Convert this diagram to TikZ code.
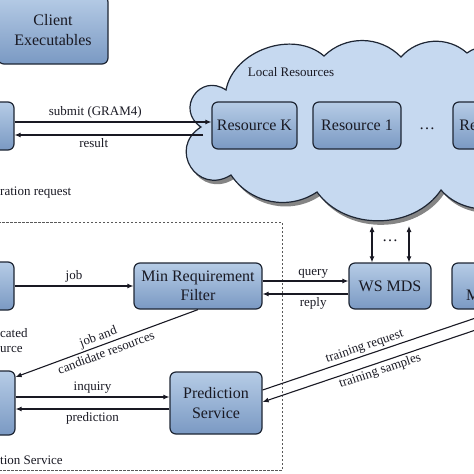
\documentclass[tikz,border=0pt]{standalone}
\usepackage{fontspec}
\setmainfont{Liberation Serif}
\usepackage{xcolor}
\usetikzlibrary{positioning, arrows.meta, shadows}

\definecolor{boxtop}{RGB}{182,204,230}
\definecolor{boxbot}{RGB}{122,153,195}
\definecolor{cloudblue}{RGB}{198,217,240}
\definecolor{edge}{RGB}{30,38,52}
\definecolor{ink}{RGB}{25,25,35}

\begin{document}
\begin{tikzpicture}[x=1pt, y=1pt,
  box/.style={draw=edge, line width=1.2pt, rounded corners=6pt, top color=boxtop, bottom color=boxbot,
    align=center, font=\fontsize{16}{19.5}\selectfont, text=ink, inner sep=2pt},
  lbl/.style={font=\fontsize{13}{15}\selectfont, text=ink, inner sep=1pt},
  link/.style={draw=ink, line width=1.1pt, -{Latex[length=6pt,width=5pt]}},
  back/.style={draw=ink, line width=1.1pt, {Latex[length=6pt,width=5pt]}-},
  twoway/.style={draw=ink, line width=1.1pt, {Latex[length=6pt,width=5pt]}-{Latex[length=6pt,width=5pt]}}
]
  \useasboundingbox (0,0) rectangle (474,-474);
  \clip (0,0) rectangle (474,-474);

  % service frame
  \draw[gray!70!black, line width=0.8pt, dash pattern=on 2.5pt off 1.5pt]
        (-5,-222) rectangle (282,-470);

  % local resources cloud
  \path[fill=cloudblue, draw=edge, line width=1.2pt,
        drop shadow={shadow xshift=3pt, shadow yshift=-4pt, fill=gray!80!black, opacity=0.8}]
     (226,-90) to[bend left=60] (324,-56) to[bend left=45] (401,-57)
     to[bend left=45] (467,-53) to[bend left=60] (530,-80)
     -- (540,-180) to[bend left=55] (441,-190) to[bend left=55] (317,-192)
     to[bend left=45] (231,-175) to[bend left=90, looseness=1.8] (201,-127)
     to[bend left=90, looseness=1.8] (226,-90) -- cycle;

  \node[box, minimum width=110pt, minimum height=68pt] (client) at (53,-30) {Client\\Executables};
  \node[box, minimum width=88pt, minimum height=48pt] (broker) at (-30,-126) {};
  \node[box, minimum width=85pt, minimum height=47pt] (resK) at (254.5,-125.5) {Resource K};
  \node[box, minimum width=88pt, minimum height=47pt] (resA) at (357,-125.5) {Resource 1};
  \node[lbl, font=\fontsize{16}{19}\selectfont] (resdots) at (427,-129) {\dots};
  \node[box, minimum width=88pt, minimum height=47pt] (resN) at (497,-125.5) {Resource N};
  \node[lbl] (localres) at (291,-72) {Local Resources};
  \node[lbl, anchor=west] (allocreq) at (-1,-193) {ration request};

  \node[box, minimum width=88pt, minimum height=48pt] (matcher) at (-30,-286) {};
  \node[box, minimum width=128pt, minimum height=46pt] (filter) at (198,-286) {Min Requirement\\Filter};
  \node[box, minimum width=82pt, minimum height=46pt] (wsmds) at (390,-286) {WS MDS};
  \node[box, minimum width=88pt, minimum height=46pt] (trainer) at (496,-286) {};
  \node[lbl, font=\fontsize{16}{19}\selectfont, anchor=west] (trainertext) at (465,-295) {M};
  \node[lbl, align=left, anchor=west] (alloclbl) at (-1,-341) {cated\\urce};

  \node[box, minimum width=90pt, minimum height=64pt] (allocsvc) at (-30,-403) {};
  \node[box, minimum width=92pt, minimum height=62pt] (predict) at (216,-403) {Prediction\\Service};
  \node[lbl, anchor=west] (svclbl) at (-1,-460) {tion Service};

  % submission
  \draw[link] ([yshift=4pt]broker.east) -- node[lbl, above=2pt, pos=0.41] {submit (GRAM4)} ([yshift=3.5pt]resK.west);
  \coordinate (cloudgap) at (203,-135);
  \draw[link] (cloudgap) -- node[lbl, below=2pt, pos=0.58] {result} ([yshift=-9pt]broker.east);

  % information service
  \coordinate (mdsup1) at (372,-226);
  \coordinate (mdsup2) at (409,-226);
  \draw[twoway] (mdsup1) -- (mdsup1 |- wsmds.north);
  \draw[twoway] (mdsup2) -- (mdsup2 |- wsmds.north);
  \node[lbl, font=\fontsize{16}{19}\selectfont] (mdsdots) at (390,-241) {\dots};

  \draw[link] (matcher.east) -- node[lbl, above=2pt] {job} (filter.west);
  \draw[link] ([yshift=5pt]filter.east) -- node[lbl, above=1pt, pos=0.59] {query} ([yshift=5pt]wsmds.west);
  \draw[link] ([yshift=-8pt]wsmds.west) -- node[lbl, below=2pt, pos=0.41] {reply} ([yshift=-8pt]filter.east);
  \draw[back] ([yshift=26pt]allocsvc.east) -- node[lbl, sloped, above=1pt, pos=0.47] {job and}
        node[lbl, sloped, below=2pt, pos=0.48] {candidate resources} (filter.south);

  % prediction
  \draw[link] ([yshift=6pt]allocsvc.east) -- node[lbl, above=2pt] {inquiry} ([yshift=6pt]predict.west);
  \draw[link] ([yshift=-6pt]predict.west) -- node[lbl, below=2pt] {prediction} ([yshift=-6pt]allocsvc.east);
  \draw[link] ([yshift=13pt]predict.east) -- node[lbl, sloped, above=1pt, pos=0.44] {training request} ([xshift=4.5pt]trainer.south);
  \draw[back] ([yshift=1pt]predict.east) -- node[lbl, sloped, below=1pt, pos=0.42] {training samples} ([xshift=40pt]trainer.south);
\end{tikzpicture}
\end{document}
